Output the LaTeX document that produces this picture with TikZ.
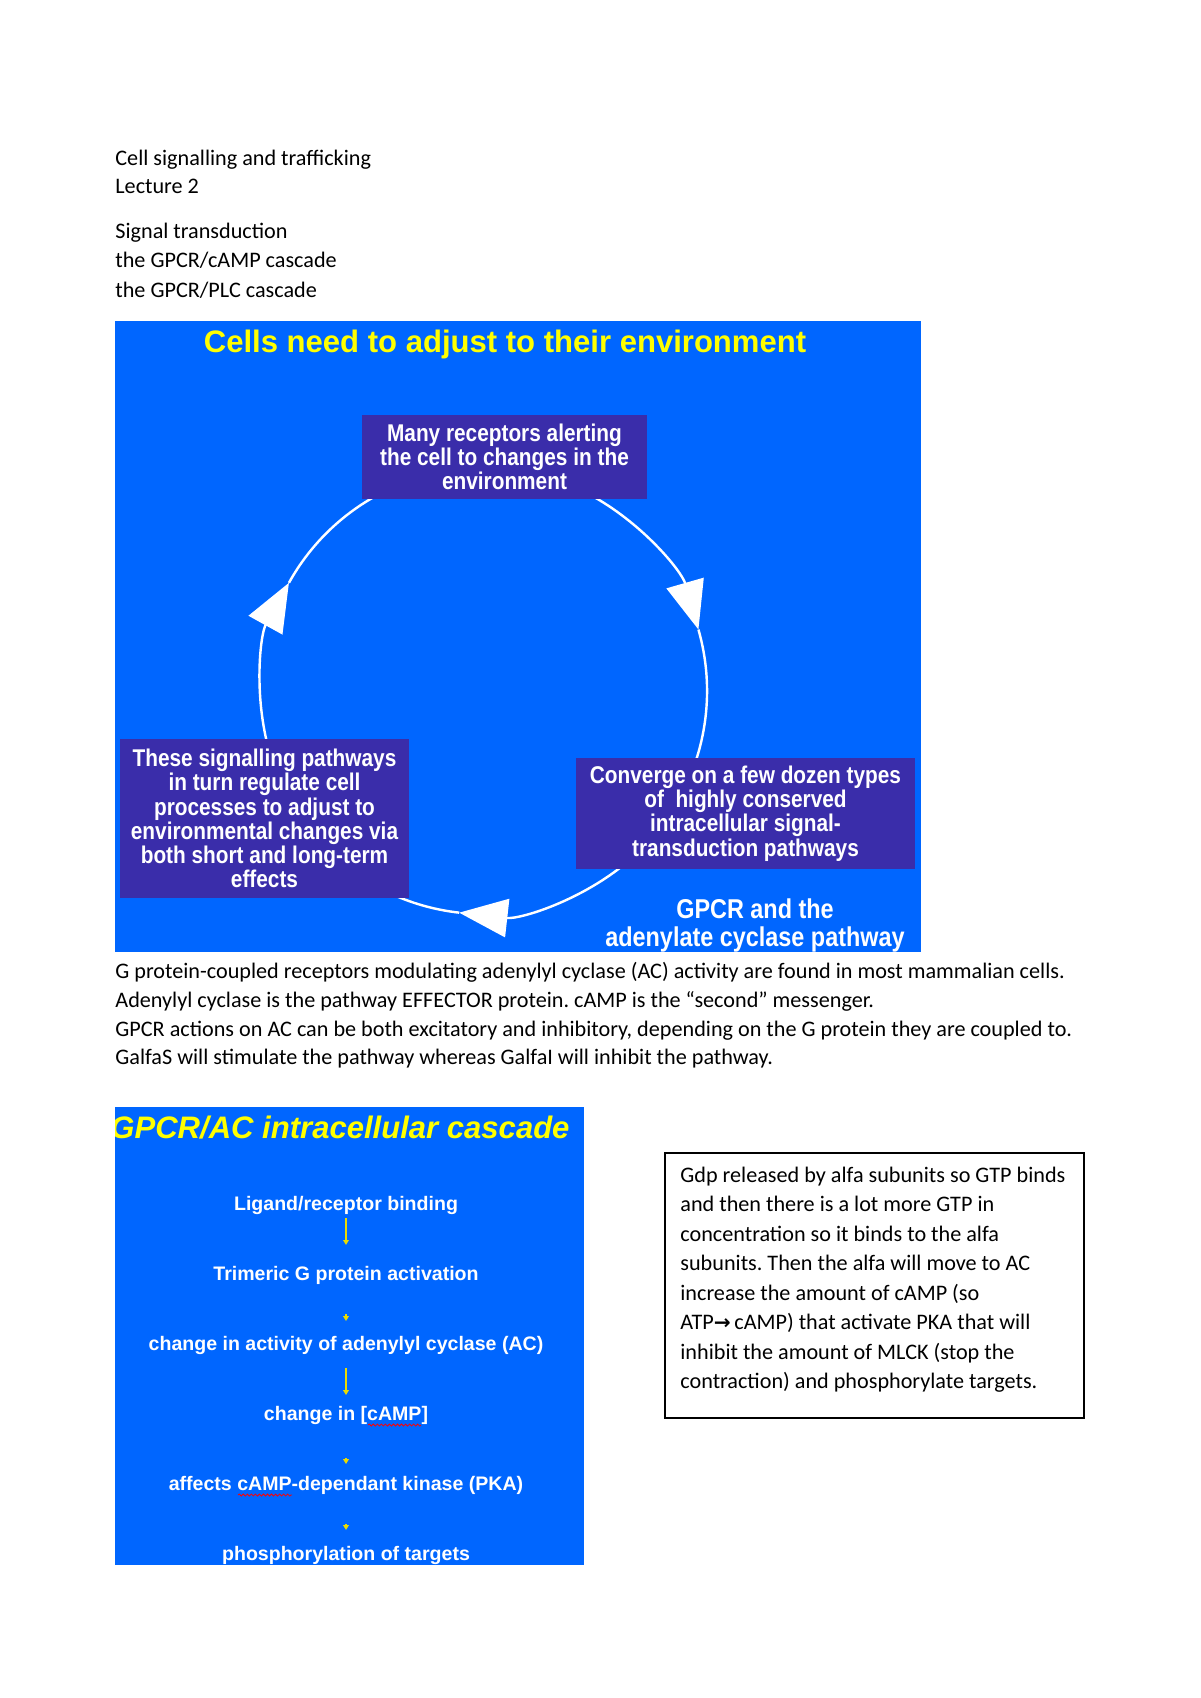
\documentclass[tikz,border=0pt]{standalone}
\usepackage{fontspec}
\setmainfont{Carlito}
\newfontfamily\arialfont{Liberation Sans}
\newfontfamily\narrowfont{Liberation Sans}[FakeStretch=0.86]
\newfontfamily\djv{DejaVu Sans}
\usetikzlibrary{arrows.meta,calc,decorations.pathmorphing}
\definecolor{slideblue}{RGB}{0,102,255}
\definecolor{boxpurple}{RGB}{58,45,170}
\definecolor{ttlyellow}{RGB}{255,255,0}
\definecolor{arryellow}{RGB}{235,220,0}
\frenchspacing
\begin{document}
\begin{tikzpicture}[x=0.49583pt,y=0.49583pt,
  doc/.style={anchor=base west, inner sep=0pt, font=\fontsize{11}{13.4}\selectfont, text=black},
  slidebox/.style={fill=boxpurple, inner sep=0pt, text=white, align=center, font=\narrowfont\bfseries\fontsize{12}{12}\selectfont},
  cyc/.style={draw=white, line width=1.2pt},
  cyctip/.style={-{Triangle[length=24pt,width=19pt]}},
  casc/.style={anchor=base, inner sep=0pt, text=white, font=\arialfont\bfseries\fontsize{9.7}{11}\selectfont},
  yarr/.style={draw=arryellow, line width=0.6pt, -{Triangle[length=2.4pt,width=2.8pt]}},
  squig/.style={draw=red, line width=0.4pt, decorate, decoration={snake, amplitude=0.5pt, segment length=2pt}}
]
\useasboundingbox (0,0) rectangle (1200,-1698);
\fill[white] (0,0) rectangle (1200,-1698);

% header
\node[doc] (h1) at (115,-165) {Cell signalling and trafficking};
\node[doc] (h2) at (115,-193) {Lecture 2};
\node[doc] (h3) at (115,-238) {Signal transduction};
\node[doc] (h4) at (115,-267) {the GPCR/cAMP cascade};
\node[doc] (h5) at (115,-297) {the GPCR/PLC cascade};

% slide 1
\fill[slideblue] (115,-321) rectangle (921,-952);
\node[anchor=base, inner sep=0pt, text=ttlyellow, font=\arialfont\bfseries\fontsize{15.4}{18}\selectfont] (t1) at (505,-352) {Cells need to adjust to their environment};

\coordinate (cen) at (484,-691);
\draw[cyc,cyctip] ($(cen)+(62:110.6pt)$) arc[start angle=62,end angle=16,radius=110.6pt];
\draw[cyc] ($(cen)+(16:110.6pt)$) arc[start angle=16,end angle=-22,radius=110.6pt];
\draw[cyc,cyctip] ($(cen)+(-50:110.6pt)$) arc[start angle=-50,end angle=-96.4,radius=110.6pt];
\draw[cyc] ($(cen)+(-96.4:110.6pt)$) arc[start angle=-96.4,end angle=-114,radius=110.6pt];
\draw[cyc,cyctip] ($(cen)+(196:110.6pt)$) arc[start angle=196,end angle=151,radius=110.6pt];
\draw[cyc] ($(cen)+(151:110.6pt)$) arc[start angle=151,end angle=116,radius=110.6pt];

\node[slidebox, minimum width=141.3pt, minimum height=41.6pt] (topbox) at (504.5,-457) {Many receptors alerting\\the cell to changes in the\\environment};
\node[slidebox, minimum width=143.3pt, minimum height=78.8pt] (leftbox) at (264.5,-818.5) {These signalling pathways\\in turn regulate cell\\processes to adjust to\\environmental changes via\\both short and long-term\\effects};
\node[slidebox, minimum width=168pt, minimum height=55pt] (rightbox) at (745.5,-813.5) {Converge on a few dozen types\\of~ highly conserved\\intracellular signal-\\transduction pathways};
\node[align=center, text=white, inner sep=0pt, font=\narrowfont\bfseries\fontsize{13.5}{13.9}\selectfont] (lab) at (755,-925) {GPCR and the\\adenylate cyclase pathway};

% paragraph
\node[doc] (p1) at (115,-978) {G protein-coupled receptors modulating adenylyl cyclase (AC) activity are found in most mammalian cells.};
\node[doc] (p2) at (115,-1007) {Adenylyl cyclase is the pathway EFFECTOR protein. cAMP is the “second” messenger.};
\node[doc] (p3) at (115,-1036) {GPCR actions on AC can be both excitatory and inhibitory, depending on the G protein they are coupled to.};
\node[doc] (p4) at (115,-1064) {GalfaS will stimulate the pathway whereas GalfaI will inhibit the pathway.};

% slide 2
\fill[slideblue] (115,-1107) rectangle (584,-1565);
\begin{scope}
\clip (115,-1107) rectangle (584,-1565);
\node[anchor=base west, inner sep=0pt, text=ttlyellow, font=\arialfont\bfseries\itshape\fontsize{15.4}{18}\selectfont] (t2) at (110,-1138) {GPCR/AC intracellular cascade};
\end{scope}
\node[casc] (c1) at (346,-1210) {Ligand/receptor binding};
\node[casc] (c2) at (346,-1280) {Trimeric G protein activation};
\node[casc] (c3) at (346,-1350) {change in activity of adenylyl cyclase (AC)};
\node[casc] (c4) at (346,-1420) {change in [cAMP]};
\node[casc] (c5) at (346,-1490) {affects cAMP-dependant kinase (PKA)};
\node[casc] (c6) at (346,-1560) {phosphorylation of targets};
\draw[yarr] ([yshift=-4pt]c1.base) -- ([yshift=17.4pt]c2.base);
\draw[yarr] ([yshift=-16.9pt]c2.base) -- ([yshift=14.4pt]c3.base);
\draw[yarr] ([yshift=-8.9pt]c3.base) -- ([yshift=12.4pt]c4.base);
\draw[yarr] ([yshift=-18.8pt]c4.base) -- ([yshift=12.9pt]c5.base);
\draw[yarr] ([yshift=-16.9pt]c5.base) -- ([yshift=14.9pt]c6.base);
\draw[squig] (368,-1425) -- (421,-1425);
\draw[squig] (238,-1495) -- (292,-1495);

% note box
\node[draw, line width=1pt, anchor=north west, inner sep=0pt, minimum width=207.8pt, minimum height=131.4pt] (note) at (664,-1152) {};
\node[doc] (n1) at (680,-1182) {Gdp released by alfa subunits so GTP binds};
\node[doc] (n2) at (680,-1211.5) {and then there is a lot more GTP in};
\node[doc] (n3) at (680,-1241) {concentration so it binds to the alfa};
\node[doc] (n4) at (680,-1270.5) {subunits. Then the alfa will move to AC};
\node[doc] (n5) at (680,-1300) {increase the amount of cAMP (so};
\node[doc] (n6) at (680,-1329.5) {ATP{\djv\bfseries\fontsize{10}{10}\selectfont →}\,cAMP) that activate PKA that will};
\node[doc] (n7) at (680,-1359) {inhibit the amount of MLCK (stop the};
\node[doc] (n8) at (680,-1388.5) {contraction) and phosphorylate targets.};
\end{tikzpicture}
\end{document}
